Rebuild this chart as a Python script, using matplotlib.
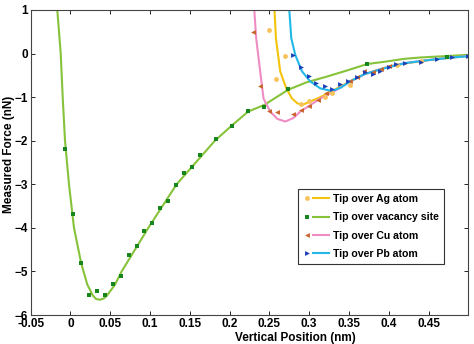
import matplotlib
matplotlib.use("Agg")
import matplotlib.pyplot as plt
from matplotlib.lines import Line2D

plt.rcParams["font.family"] = ["Liberation Sans", "DejaVu Sans"]
plt.rcParams["font.weight"] = "bold"

# Tip over vacancy site
vac_x = [-0.007, 0.003, 0.013, 0.023, 0.033, 0.043, 0.053, 0.063, 0.073, 0.083, 0.093, 0.103,
         0.113, 0.123, 0.133, 0.143, 0.153, 0.163, 0.183, 0.203, 0.223, 0.243, 0.273, 0.373, 0.473]
vac_y = [-2.19, -3.68, -4.81, -5.54, -5.44, -5.53, -5.28, -5.10, -4.62, -4.41, -4.08, -3.88,
         -3.55, -3.39, -3.01, -2.74, -2.61, -2.33, -1.97, -1.66, -1.31, -1.22, -0.82, -0.24, -0.07]
vac_fit_x = [-0.0166, -0.0123, -0.0098, -0.0069, -0.0019, 0.0044, 0.0134, 0.0211, 0.028, 0.032,
             0.037, 0.042, 0.046, 0.056, 0.0643, 0.0978, 0.1334, 0.1815, 0.2035, 0.2234, 0.2435,
             0.2736, 0.2967, 0.322, 0.349, 0.373, 0.394, 0.42, 0.44, 0.47, 0.5]
vac_fit_y = [1, 0, -1, -2, -3, -4, -4.81, -5.3, -5.55, -5.63, -5.65, -5.62, -5.55, -5.3, -5.0,
             -4.0, -3.0, -2.0, -1.64, -1.33, -1.18, -0.83, -0.66, -0.53, -0.38, -0.24, -0.19,
             -0.12, -0.09, -0.06, -0.03]

# Tip over Ag atom
ag_x = [0.250, 0.2587, 0.2699, 0.2895, 0.2995, 0.3196, 0.329, 0.351, 0.41, 0.44]
ag_y = [0.54, -0.58, -0.05, -1.16, -1.08, -0.99, -0.91, -0.72, -0.27, -0.18]
ag_fit_x = [0.2564, 0.2582, 0.2636, 0.2712, 0.2783, 0.285, 0.291, 0.3014, 0.314, 0.33, 0.35,
            0.37, 0.40, 0.42, 0.45, 0.48, 0.5]
ag_fit_y = [1, 0.35, -0.41, -0.80, -1.03, -1.14, -1.18, -1.10, -1.0, -0.85, -0.65, -0.47,
            -0.3, -0.23, -0.15, -0.09, -0.06]

# Tip over Cu atom
cu_x = [0.229, 0.2388, 0.2496, 0.2597, 0.2796, 0.2895, 0.30, 0.3106, 0.3207, 0.351, 0.36,
        0.369, 0.38, 0.39, 0.40]
cu_y = [0.49, -0.74, -1.31, -1.35, -1.39, -1.30, -1.21, -1.07, -0.90, -0.64, -0.54,
        -0.41, -0.42, -0.36, -0.28]
cu_fit_x = [0.231, 0.2334, 0.2384, 0.2426, 0.251, 0.260, 0.270, 0.280, 0.289, 0.300, 0.314,
            0.331, 0.35, 0.37, 0.40, 0.42, 0.45, 0.48, 0.5]
cu_fit_y = [1, 0.35, -0.41, -1.03, -1.33, -1.50, -1.56, -1.48, -1.33, -1.20, -1.03,
            -0.87, -0.66, -0.47, -0.30, -0.22, -0.15, -0.09, -0.06]

# Tip over Pb atom
pb_x = [0.2796, 0.29, 0.2995, 0.309, 0.3195, 0.329, 0.339, 0.349, 0.36, 0.3698, 0.3799,
        0.3896, 0.40, 0.4097, 0.4198, 0.44, 0.4601, 0.4798, 0.4995]
pb_y = [-0.03, -0.32, -0.52, -0.68, -0.74, -0.82, -0.71, -0.62, -0.53, -0.42, -0.47,
        -0.39, -0.31, -0.25, -0.22, -0.19, -0.13, -0.09, -0.06]
pb_fit_x = [0.275, 0.2775, 0.2825, 0.291, 0.3014, 0.314, 0.3287, 0.34, 0.352, 0.37, 0.39,
            0.42, 0.45, 0.48, 0.5]
pb_fit_y = [1, 0.35, -0.03, -0.41, -0.64, -0.80, -0.86, -0.78, -0.63, -0.47, -0.36,
            -0.22, -0.15, -0.09, -0.06]

labels = ["Tip over Ag atom", "Tip over vacancy site", "Tip over Cu atom", "Tip over Pb atom"]
x_ticks = [-0.05, 0, 0.05, 0.1, 0.15, 0.2, 0.25, 0.3, 0.35, 0.4, 0.45]
y_ticks = [-6, -5, -4, -3, -2, -1, 0, 1]


class MarkerThenLine:
    # matlab-ish legend entry: marker on the left, short line after it
    def legend_artist(self, legend, orig, fontsize, handlebox):
        m, l = orig
        x0, y0 = handlebox.xdescent, handlebox.ydescent
        w, h = handlebox.width, handlebox.height
        yc = y0 + h / 2
        mk = Line2D([x0 + 2.5], [yc], marker=m.get_marker(), color=m.get_color(),
                    ms=m.get_markersize(), mew=0, ls="none")
        ln = Line2D([x0 + 7, x0 + w], [yc, yc], color=l.get_color(), lw=l.get_linewidth())
        handlebox.add_artist(ln)
        handlebox.add_artist(mk)
        return ln


fig = plt.figure(figsize=(4.74, 3.44), dpi=100)
ax = fig.add_axes([0.0648, 0.0843, 0.9232, 0.8867])

l_vac, = ax.plot(vac_fit_x, vac_fit_y, color="#86c23a", lw=1.5)
l_ag, = ax.plot(ag_fit_x, ag_fit_y, color="#f2c40c", lw=1.5)
l_cu, = ax.plot(cu_fit_x, cu_fit_y, color="#ef8cc4", lw=1.5)
l_pb, = ax.plot(pb_fit_x, pb_fit_y, color="#22b8e8", lw=1.5)

m_ag, = ax.plot(ag_x, ag_y, "o", color="#f7c35c", ms=3.5, mew=0)
m_vac, = ax.plot(vac_x, vac_y, "s", color="#17861c", ms=3.5, mew=0)
m_cu, = ax.plot(cu_x, cu_y, "<", color="#c8642a", ms=3.5, mew=0)
m_pb, = ax.plot(pb_x, pb_y, ">", color="#1c3fb8", ms=3.5, mew=0)

ax.set_xlim(-0.05, 0.5)
ax.set_ylim(-6, 1)
ax.set_xticks(x_ticks)
ax.set_xticklabels([f"{t:g}" for t in x_ticks])
ax.set_yticks(y_ticks)
ax.tick_params(direction="in", top=True, right=True, length=3, width=0.6,
               labelsize=8.5, pad=2)
for s in ax.spines.values():
    s.set_linewidth(0.8)
    s.set_color("#444444")
ax.set_xlabel("Vertical Position (nm)", fontsize=8.5, fontweight="bold")
ax.set_ylabel("Measured Force (nN)", fontsize=8.5, fontweight="bold")
ax.xaxis.set_label_coords(0.604, -0.055)
ax.yaxis.set_label_coords(-0.035, 0.525)

leg = ax.legend([(m_ag, l_ag), (m_vac, l_vac), (m_cu, l_cu), (m_pb, l_pb)], labels,
                handler_map={tuple: MarkerThenLine()},
                loc="upper left", bbox_to_anchor=(0.6115, 0.412), borderaxespad=0,
                fancybox=False, edgecolor="#333333", framealpha=1,
                prop={"size": 7.6, "weight": "bold"}, handlelength=2.45,
                handletextpad=0.4, labelspacing=0.78, borderpad=0.45)
leg.get_frame().set_linewidth(0.8)

fig.savefig("out.png", dpi=100)
